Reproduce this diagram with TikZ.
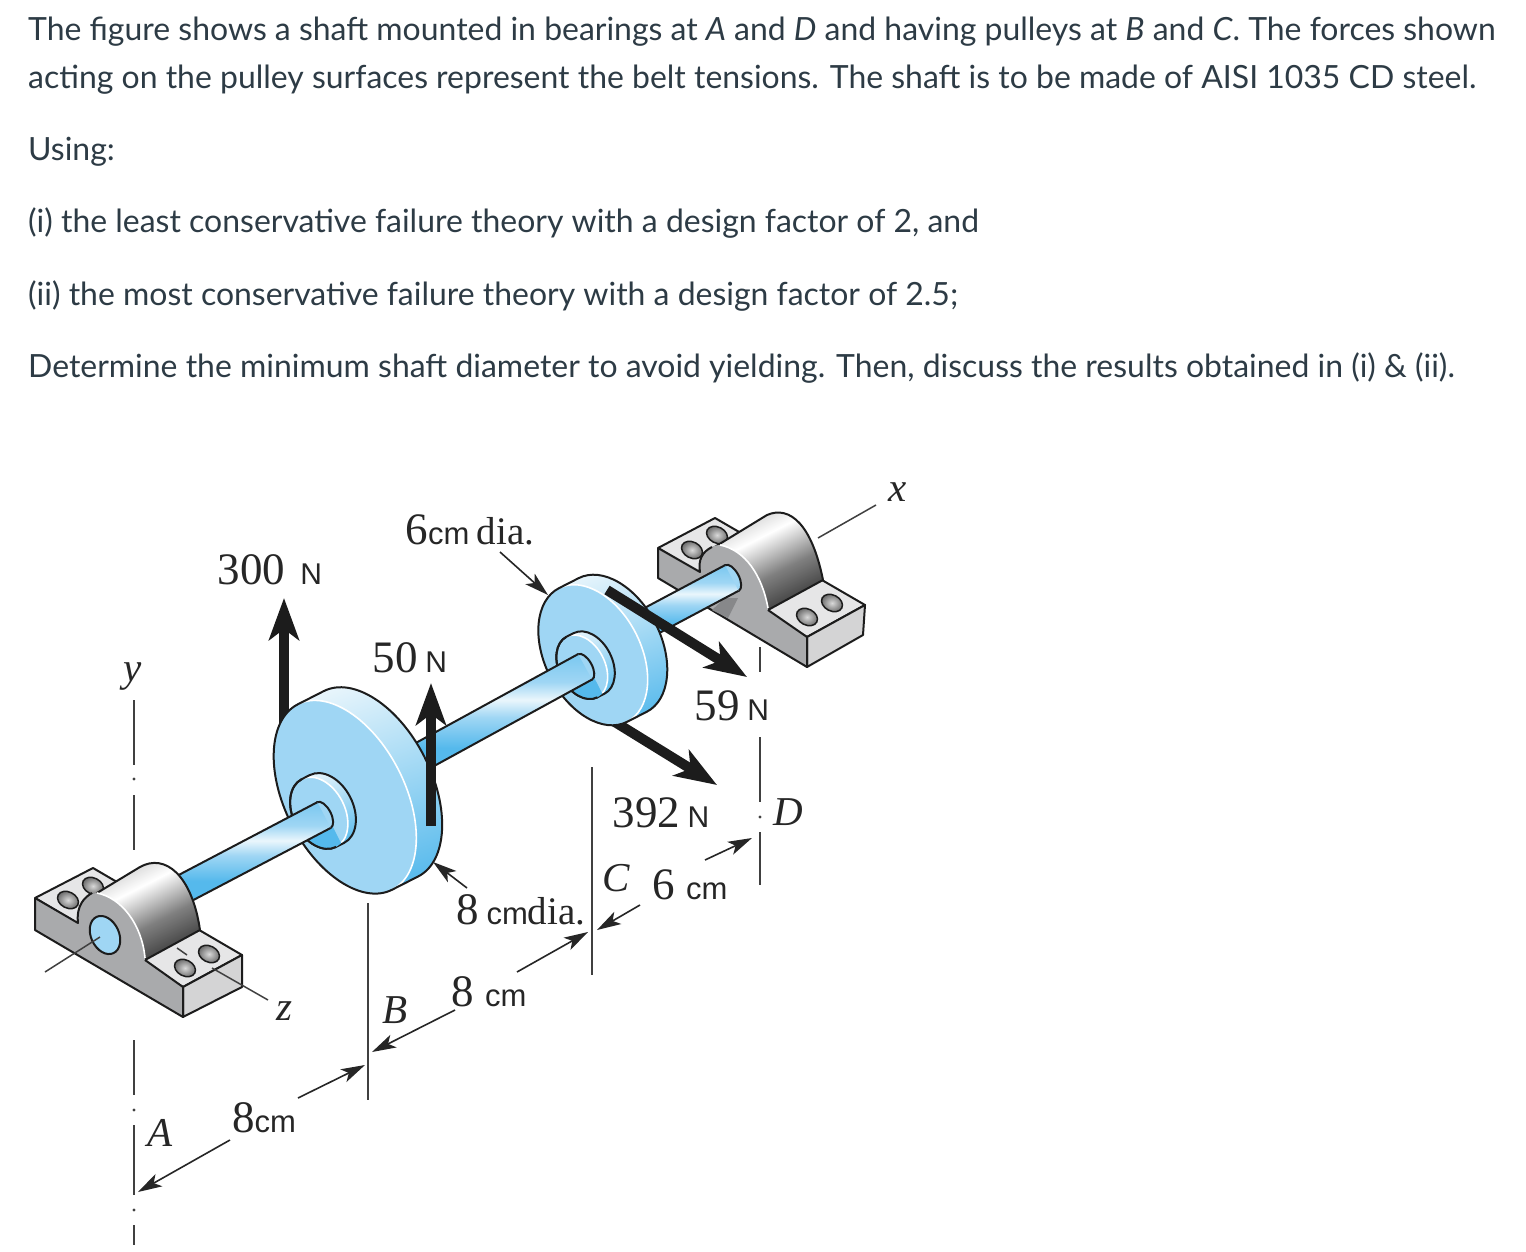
\documentclass[tikz,border=0pt]{standalone}
\usepackage{fontspec}
\setmainfont{Lato}
\newfontfamily\lblserif{Liberation Serif}
\newfontfamily\lblsans{Liberation Sans}
\usetikzlibrary{arrows.meta,shapes.geometric}
\definecolor{ink}{HTML}{1C1C1C}
\definecolor{txtc}{HTML}{2D3B45}
\definecolor{face}{HTML}{9FD6F4}
\definecolor{rimlo}{HTML}{55B9EC}
\definecolor{rimhi}{HTML}{EAF6FC}
\definecolor{gtop}{HTML}{E6E6E7}
\definecolor{gfront}{HTML}{A9AAAC}
\definecolor{gside}{HTML}{D4D4D5}
\pgfdeclareverticalshading{shaftshade}{100bp}{color(0bp)=(rimlo); color(25bp)=(rimlo); color(38bp)=(rimlo); color(50bp)=(face); color(57bp)=(rimhi); color(64bp)=(face); color(75bp)=(face!50!rimlo); color(100bp)=(face!50!rimlo)}
\pgfdeclareverticalshading{cylshade}{100bp}{color(0bp)=(black!70); color(28bp)=(black!72); color(42bp)=(black!50); color(60bp)=(white); color(68bp)=(black!12); color(75bp)=(black!30); color(100bp)=(black!30)}
\tikzset{
 txt/.style={anchor=base west,text=txtc,font=\fontsize{31.95}{32}\selectfont,inner sep=0pt},
 lbl/.style={text=black!85,inner sep=0pt,font=\lblserif\fontsize{45}{45}\selectfont},
 lbi/.style={text=black!85,inner sep=0pt,font=\lblserif\itshape\fontsize{41}{41}\selectfont},
 axisline/.style={draw=black!75,line width=1.5pt},
 dimarrow/.style={draw=black!85,line width=1.6pt,-{Stealth[length=24pt,width=14pt,inset=6pt]}},
 forcearrow/.style={draw=ink,line width=10pt,-{Stealth[length=42pt,width=30pt,inset=11pt]}},
 edge/.style={draw=ink,line width=2pt,line join=round},
 shaftbody/.style={shading=shaftshade,inner sep=0pt,outer sep=0pt,minimum height=29pt},
}
\newcommand\unitN{{\lblsans\fontsize{30}{30}\selectfont N}}
\newcommand\unitcm{{\lblsans\fontsize{31}{31}\selectfont cm}}
\newcommand\diatext{{\fontsize{39}{39}\selectfont dia.}}
% cx cy a b t
\newcommand\wheel[5]{%
 \begin{scope}[shift={(#1,#2)},rotate=-63]
 \path[top color=rimhi,middle color=face,bottom color=rimlo,shading angle=20]
   (180:#3 and #4) arc[start angle=180,end angle=0,x radius=#3,y radius=#4] -- ++(0,-#5)
   arc[start angle=0,end angle=-180,x radius=#3,y radius=#4] -- cycle;
 \fill[face] (0,0) ellipse (#3 and #4);
 \draw[white,line width=1.6pt] (180:#3 and #4) arc[start angle=180,end angle=360,x radius=#3,y radius=#4];
 \draw[edge]
   (180:#3 and #4) arc[start angle=180,end angle=0,x radius=#3,y radius=#4] -- ++(0,-#5)
   arc[start angle=0,end angle=-180,x radius=#3,y radius=#4] -- cycle;
 \end{scope}}
% crescent of deeper blue under the shaft on a hub: cx cy a b
\newcommand\hubshadow[4]{%
 \begin{scope}[shift={(#1,#2)},rotate=-63]
 \begin{scope}
 \clip (0,0) ellipse (#3 and #4);
 \fill[rimlo] (9,-6) rectangle (#3,#4);
 \end{scope}
 \draw[edge] (180:#3 and #4) arc[start angle=180,end angle=0,x radius=#3,y radius=#4];
 \end{scope}}
\newcommand\bolt[2]{\draw[draw=ink,line width=1.5pt,inner color=black!15,outer color=black!60,rotate around={-27:(#1,#2)}] (#1,#2) ellipse (11 and 8);}
\begin{document}
\begin{tikzpicture}[x=1pt,y=-1pt]
\useasboundingbox (0,0) rectangle (1526,1252);
\fill[white] (0,0) rectangle (1526,1252);
% text
\node[txt] (t1) at (28,41) {The figure shows a shaft mounted in bearings at \textit{A} and \textit{D} and having pulleys at \textit{B} and \textit{C}. The forces shown};
\node[txt] (t2) at (28,89) {acting on the pulley surfaces represent the belt tensions. The shaft is to be made of AISI 1035 CD steel.};
\node[txt] (t3) at (28,161) {Using:};
\node[txt] (t4) at (28,233) {(i) the least conservative failure theory with a design factor of 2, and};
\node[txt] (t5) at (28,305) {(ii) the most conservative failure theory with a design factor of 2.5;};
\node[txt] (t6) at (28,377) {Determine the minimum shaft diameter to avoid yielding. Then, discuss the results obtained in (i) \& (ii).};
% axis and extension coordinates
\coordinate (y1a) at (134,700); \coordinate (y1b) at (134,765);
\coordinate (y2a) at (134,795); \coordinate (y2b) at (134,850);
\coordinate (y3a) at (134,1040); \coordinate (y3b) at (134,1095);
\coordinate (y4a) at (134,1125); \coordinate (y4b) at (134,1195);
\coordinate (y5a) at (134,1225); \coordinate (y5b) at (134,1245);
\foreach \p/\q in {y1a/y1b,y2a/y2b,y3a/y3b,y4a/y4b,y5a/y5b} \draw[axisline] (\p) -- (\q);
\foreach \p in {779,1110,1210} \fill[black!75] (134,\p) circle (1.6);
\coordinate (Bt) at (368,903); \coordinate (Bb) at (368,1100);
\coordinate (Ct) at (592,767); \coordinate (Cb) at (592,975);
\draw[axisline] (Bt) -- (Bb);
\draw[axisline] (Ct) -- (Cb);
\coordinate (D1a) at (760,647); \coordinate (D1b) at (760,672);
\coordinate (D2a) at (760,737); \coordinate (D2b) at (760,802);
\coordinate (D3a) at (760,832); \coordinate (D3b) at (760,885);
\foreach \p/\q in {D1a/D1b,D2a/D2b,D3a/D3b} \draw[axisline] (\p) -- (\q);
\fill[black!75] (760,817) circle (1.6);
\coordinate (xa) at (818,538); \coordinate (xb) at (876,505);
\draw[axisline] (xa) -- (xb);
% right bearing (D)
\draw[edge,fill=gtop] (658,548) -- (715,518) -- (865,605) -- (807,637) -- cycle;
\draw[edge,fill=gside] (807,637) -- (865,605) -- (863,635) -- (807,667) -- cycle;
\bolt{692}{550}\bolt{717}{535}\bolt{807}{617}\bolt{832}{603}
\path[shading=cylshade,shading angle=27] (713,548) -- (767,515) .. controls (790,505) and (812,525) .. (823,580) -- (768,610) .. controls (762,575) and (745,550) .. (720,545) -- cycle;
\draw[edge] (713,548) -- (767,515) .. controls (790,505) and (812,525) .. (823,580) -- (768,610);
\path[fill=gfront] (658,578) -- (658,548) -- (700,572) .. controls (698,555) and (708,545) .. (720,545) .. controls (745,550) and (762,575) .. (768,610) -- (807,637) -- (807,667) -- cycle;
\draw[edge] (658,548) -- (700,572) .. controls (698,560) and (702,552) .. (712,547);
\draw[edge] (768,610) -- (807,637) -- (807,667) -- (658,578) -- (658,548);
\draw[white,line width=1.6pt] (720,545) .. controls (745,550) and (762,575) .. (768,608);
\fill[gfront!80!black] (712,610) -- (728,618) -- (738,598) -- (725,598) -- cycle;
% shaft C-D
\path[fill=face,draw=ink,line width=2pt,shift={(732,578)},rotate=28] (0,0) ellipse (7 and 14.5);
\node[shaftbody,rotate=28,minimum width=115pt] (sCD) at (681,605) {};
\draw[edge] (sCD.north west) -- (sCD.north east);
\draw[edge] (sCD.south west) -- (sCD.south east);
% 392 N arrow from behind pulley C
\coordinate (f392a) at (610,719); \coordinate (f392b) at (717,785);
\draw[forcearrow] (f392a) -- (f392b);
% pulley C
\wheel{593}{655}{75}{48}{22}
\wheel{582}{667}{34}{23}{8}
\hubshadow{582}{667}{34}{23}
% shaft B-C
\path[fill=face,draw=ink,line width=2pt,shift={(585,667)},rotate=28.7] (0,0) ellipse (7 and 14.5);
\node[shaftbody,rotate=28.7,minimum width=211pt] (sBC) at (492.5,717.5) {};
\draw[edge] (sBC.north west) -- (sBC.north east);
\draw[edge] (sBC.south west) -- (sBC.south east);
\coordinate (f59a) at (607,590); \coordinate (f59b) at (747,677);
\draw[forcearrow] (f59a) -- (f59b);
% 300 N arrow behind pulley B
\coordinate (f300a) at (284,730); \coordinate (f300b) at (284,598);
\draw[forcearrow] (f300a) -- (f300b);
% pulley B
\wheel{345}{797}{104}{60}{29}
\wheel{319}{813}{38}{26}{9}
\hubshadow{319}{813}{38}{26}
% 50 N arrow
\coordinate (f50a) at (431,826); \coordinate (f50b) at (431,683);
\draw[forcearrow] (f50a) -- (f50b);
% shaft A-B
\path[fill=face,draw=ink,line width=2pt,shift={(324,815)},rotate=27.7] (0,0) ellipse (7 and 14.5);
\node[shaftbody,rotate=27.7,minimum width=174pt] (sAB) at (247,855.5) {};
\draw[edge] (sAB.north west) -- (sAB.north east);
\draw[edge] (sAB.south west) -- (sAB.south east);
% left bearing (A)
\draw[edge,fill=gtop] (35,898) -- (93,868) -- (242,955) -- (183,987) -- cycle;
\draw[edge,fill=gside] (183,987) -- (242,955) -- (242,987) -- (183,1017) -- cycle;
\bolt{68}{900}\bolt{93}{886}\bolt{185}{968}\bolt{209}{954}
\path[shading=cylshade,shading angle=27] (97,893) -- (140,867) .. controls (165,853) and (192,875) .. (200,930) -- (145,960) .. controls (142,925) and (122,898) .. (97,893) -- cycle;
\draw[edge] (97,893) -- (140,867) .. controls (165,853) and (192,875) .. (200,930) -- (145,960);
\path[fill=gfront] (35,930) -- (35,898) -- (78,923) .. controls (76,905) and (85,893) .. (97,893) .. controls (122,898) and (142,925) .. (145,960) -- (183,987) -- (183,1017) -- cycle;
\draw[edge] (35,898) -- (78,923) .. controls (76,905) and (85,897) .. (92,893);
\draw[edge] (35,898) -- (35,930) -- (183,1017) -- (183,987) -- (145,960);
\draw[white,line width=1.6pt] (97,893) .. controls (122,898) and (142,925) .. (145,958);
\draw[edge,fill=face,rotate around={25:(105,935)}] (105,935) ellipse (14 and 20);
\coordinate (xl1) at (45,972); \coordinate (xl2) at (100,937);
\draw[axisline] (xl1) -- (xl2);
\coordinate (z1) at (212,968); \coordinate (z2) at (268,1000);
\draw[axisline] (z1) -- (z2);
\coordinate (z3) at (177,948); \coordinate (z4) at (187,955);
\draw[axisline] (z3) -- (z4);
% dimension arrows
\coordinate (ab1) at (230,1140); \coordinate (ab2) at (138,1192);
\coordinate (ab3) at (298,1098); \coordinate (ab4) at (365,1065);
\coordinate (bc1) at (455,1010); \coordinate (bc2) at (372,1052);
\coordinate (bc3) at (517,972);  \coordinate (bc4) at (588,932);
\coordinate (cd1) at (640,905);  \coordinate (cd2) at (597,930);
\coordinate (cd3) at (705,860);  \coordinate (cd4) at (752,838);
\coordinate (d6a) at (500,552);  \coordinate (d6b) at (548,595);
\coordinate (d8a) at (467,888);  \coordinate (d8b) at (433,862);
\foreach \p/\q in {ab1/ab2,ab3/ab4,bc1/bc2,bc3/bc4,cd1/cd2,cd3/cd4,d6a/d6b,d8a/d8b} \draw[dimarrow] (\p) -- (\q);
% labels
\node[lbl] (l300) at (270,570) {300\,\,\unitN};
\node[lbl] (l6d) at (470,530) {6\unitcm\,\diatext};
\node[lbl] (l50) at (410,658) {50\,\unitN};
\node[lbl] (l59) at (732,706) {59\,\unitN};
\node[lbl] (l392) at (661,813) {392\,\unitN};
\node[lbl] (l8d) at (521,910) {8\,\unitcm\diatext};
\node[lbl] (l6) at (690,885) {6 \unitcm};
\node[lbl] (l8a) at (489,992) {8 \unitcm};
\node[lbl] (l8b) at (264,1118) {8\unitcm};
\node[lbi] (lA) at (160,1133) {A};
\node[lbi] (lB) at (395,1010) {B};
\node[lbi] (lC) at (616,878) {C};
\node[lbi] (lD) at (788,812) {D};
\node[lbi] (lx) at (898,492) {x};
\node[lbi] (ly) at (133,677) {y};
\node[lbi] (lz) at (284,1011) {z};
\end{tikzpicture}
\end{document}
